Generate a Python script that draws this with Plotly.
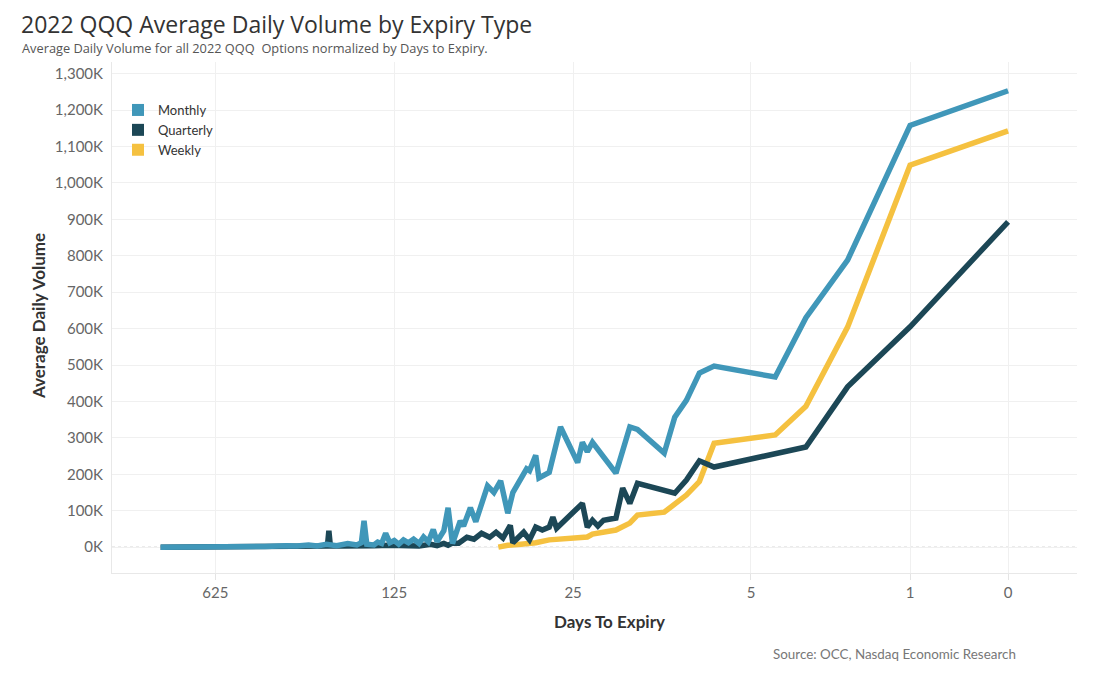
import numpy as np
import plotly.graph_objects as go

# ---------------- data ----------------
monthly_days = [1022, 900, 800, 700, 600, 500, 400, 330, 300, 270, 250, 230, 210, 190, 175, 168, 164, 160,
                150, 145, 140, 135, 130, 125, 120, 115, 110, 105, 100, 96, 92, 88, 85, 80, 77, 74, 69, 67,
                63, 60, 54, 51, 48, 45, 43, 38, 37, 35, 34, 31, 28, 24, 23, 22, 21, 17, 15, 14, 11, 10,
                9, 8, 7, 4, 3, 2, 1, 0]
monthly_vol = [0, 0, 0, 0, 1, 1, 2, 4, 3, 6, 3, 8, 4, 10, 6, 12, 72, 8,
               6, 14, 10, 38, 12, 18, 8, 20, 12, 22, 10, 28, 15, 48, 15, 45, 108, 10, 72, 58,
               108, 70, 168, 150, 182, 93, 150, 215, 210, 252, 190, 205, 330, 232, 288, 262, 288, 203, 330, 323, 258, 357,
               403, 478, 497, 467, 630, 788, 1158, 1253]

quarterly_days = [1022, 900, 700, 500, 400, 300, 250, 228, 225, 222, 200, 180, 150, 130, 110, 100, 90, 85,
                  80, 77, 74, 70, 65, 61, 57, 53, 50, 47, 44, 43, 39, 37, 35, 33, 31, 30, 29, 23, 22,
                  21, 20, 19, 17, 16, 15, 14, 10, 9, 8, 7, 3, 2, 1, 0]
quarterly_vol = [0, 0, 0, 0, 1, 2, 3, 3, 45, 3, 3, 2, 4, 5, 6, 3, 8, 4,
                 10, 5, 11, 11, 27, 22, 38, 27, 41, 25, 60, 12, 41, 20, 55, 47, 55, 82, 52, 120, 55,
                 74, 58, 74, 80, 162, 120, 175, 148, 184, 237, 220, 275, 440, 605, 893]

weekly_days = [49, 45, 40, 35, 31, 28, 25, 22, 21, 17, 15, 14, 11, 10, 9, 8, 7, 4, 3, 2, 1, 0]
weekly_vol = [0, 5, 8, 12, 20, 22, 25, 28, 36, 47, 66, 88, 96, 120, 143, 180, 285, 308, 387, 604, 1049, 1143]

x_tick_days = [625, 125, 25, 5, 1, 0]
y_ticks_k = list(range(0, 1400, 100))

series = [
    ("Monthly", monthly_days, monthly_vol, "#4097b9"),
    ("Quarterly", quarterly_days, quarterly_vol, "#1c4756"),
    ("Weekly", weekly_days, weekly_vol, "#f5c140"),
]

# pseudo-log (asinh) days axis, as in the reference
def xscale(d):
    return np.arcsinh(np.asarray(d, dtype=float))

fig = go.Figure()

for name, d, v, c in [series[2], series[1], series[0]]:
    fig.add_trace(go.Scatter(
        x=xscale(d), y=np.asarray(v) * 1000, mode="lines", name=name,
        line=dict(color=c, width=5.5, shape="linear"), showlegend=False,
        hovertemplate=name + ": %{y:,.0f}<extra></extra>"))

for name, d, v, c in series:
    fig.add_trace(go.Scatter(x=[None], y=[None], mode="markers", name=name,
                             marker=dict(symbol="square", size=12, color=c)))

L, R, T, B = 112, 24, 62, 102
W, H = 1101, 675
pw, ph = W - L - R, H - T - B

def px_x(p):
    return (p - L) / pw

def px_y(p):
    return (H - B - p) / ph

font_main = "Lato, 'Open Sans', sans-serif"

fig.update_layout(
    width=W, height=H, autosize=False,
    margin=dict(l=L, r=R, t=T, b=B),
    paper_bgcolor="white", plot_bgcolor="white",
    font=dict(family=font_main, color="#555555", size=14),
    showlegend=True,
    legend=dict(x=px_x(118), y=px_y(95), xanchor="left", yanchor="top",
                bgcolor="rgba(0,0,0,0)", font=dict(size=13, color="#333333"),
                tracegroupgap=0, itemsizing="constant"),
    xaxis=dict(
        range=[8.06, -0.62], tickmode="array",
        tickvals=xscale(x_tick_days), ticktext=[str(t) for t in x_tick_days],
        showgrid=True, gridcolor="#f0f0f0", gridwidth=1,
        zeroline=False, showline=True, linecolor="#e8e8e8",
        ticks="outside", ticklen=6, tickcolor="#e4e4e4",
        tickfont=dict(size=15, color="#666666"),
    ),
    yaxis=dict(
        range=[-71000, 1332000], tickmode="array",
        tickvals=[k * 1000 for k in y_ticks_k],
        ticktext=[f"{k:,}K" for k in y_ticks_k],
        showgrid=True, gridcolor="#f0f0f0", gridwidth=1,
        zeroline=False, showline=True, linecolor="#e8e8e8",
        ticks="", ticklabelstandoff=5,
        tickfont=dict(size=15, color="#666666"),
    ),
)

fig.add_shape(type="line", xref="paper", yref="y", x0=0, x1=1, y0=0, y1=0,
              line=dict(color="#c8c8c8", width=1, dash="dot"), layer="below")

annotations = [
    dict(text="2022 QQQ Average Daily Volume by Expiry Type", x=px_x(19), y=px_y(24),
         xanchor="left", yanchor="middle", font=dict(size=23, color="#333333", family="'Open Sans', sans-serif")),
    dict(text="Average Daily Volume for all 2022 QQQ  Options normalized by Days to Expiry.",
         x=px_x(20), y=px_y(48), xanchor="left", yanchor="middle",
         font=dict(size=12.8, color="#555555", family="'Open Sans', sans-serif")),
    dict(text="<b>Days To Expiry</b>", x=px_x(609), y=px_y(621), xanchor="center", yanchor="middle",
         font=dict(size=17, color="#333333")),
    dict(text="<b>Average Daily Volume</b>", x=px_x(38), y=px_y(316), xanchor="center", yanchor="middle",
         textangle=-90, font=dict(size=17, color="#333333")),
    dict(text="Source: OCC, Nasdaq Economic Research", x=px_x(1018), y=px_y(654),
         xanchor="right", yanchor="middle", font=dict(size=13.4, color="#777777")),
]
for a in annotations:
    a.update(xref="paper", yref="paper", showarrow=False)
    fig.add_annotation(**a)

fig.write_html("out.html")
